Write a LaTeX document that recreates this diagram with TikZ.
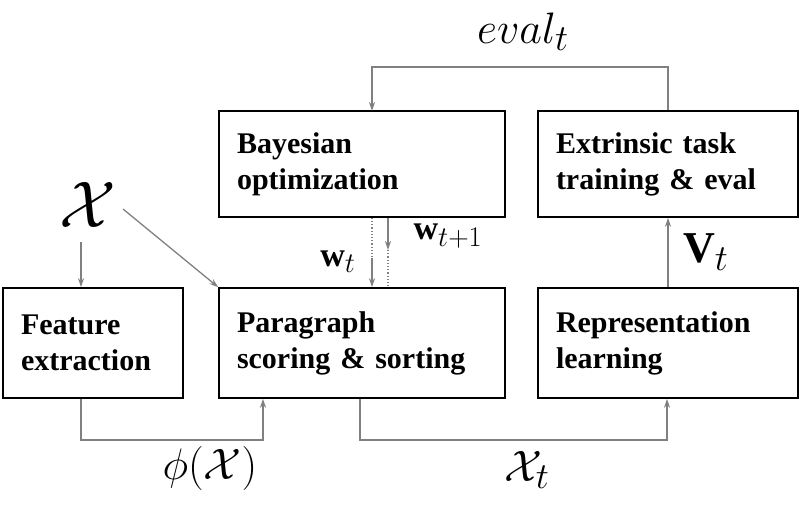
\documentclass[tikz,border=0pt]{standalone}
\usepackage{amsmath}
\usepackage{fontspec}
\setmainfont{Liberation Serif}
\usetikzlibrary{positioning,arrows.meta}

\begin{document}
\begin{tikzpicture}[x=1pt, y=-1pt, thick,
        box/.style = {draw, line width=1.6pt, minimum height=106pt, text width=#1, inner xsep=18pt, align=left, font=\fontsize{30}{36}\selectfont\bfseries},
        link/.style = {draw=gray, line width=1.3pt, -{Stealth[length=9pt, width=6pt]}},
        lbl/.style = {font=\Huge, scale=#1, transform shape},
        lbl/.default = 1.77]
        \useasboundingbox (0,0) rectangle (801,505);
        \node[box=250pt] (bo) at (362,164) {Bayesian\\optimization};
        \node[box=224pt] (ext) at (668,164) {Extrinsic task\\training \& eval};
        \node[box=144pt, minimum height=110pt] (fe) at (93,343) {Feature\\extraction};
        \node[box=250pt, minimum height=110pt] (ps) at (362,343) {Paragraph\\scoring \& sorting};
        \node[box=224pt, minimum height=110pt] (rl) at (668,343) {Representation\\learning};
        \node[lbl=2.65] (x) at (88,205) {$\mathcal{X}$};
        \node[lbl] (ev) at (523,32) {$eval_t$};
        \node[lbl] (phi) at (210,468) {$\phi(\mathcal{X})$};
        \node[lbl] (xt) at (527,470) {$\mathcal{X}_t$};
        \node[lbl] (vt) at (706,252) {$\mathbf{V}_t$};
        \node[lbl=1.37] (wt) at (338,262) {$\mathbf{w}_t$};
        \node[lbl=1.37] (wt1) at (448,236) {$\mathbf{w}_{t+1}$};
        \coordinate (top) at (0,67);
        \coordinate (bot) at (0,440);
        % feedback loop
        \draw[link] (ext.north) -- (ext.north |- top) -- (372,67) -- (372,111);
        \draw[link] (rl.north) -- (ext.south);
        \draw[link] (81,242) -- (fe.north -| 81,0);
        \draw[link] (123,209) -- (ps.north west);
        \draw[link] (fe.south -| 81,0) -- (81,440) -- (263,440) -- (ps.south -| 263,0);
        \draw[link] (ps.south -| 360,0) -- (360,440) -- (667,440) -- (rl.south -| 667,0);
        % weights
        \draw[gray, dotted, line width=1.2pt] (bo.south -| 372,0) -- (372,258);
        \draw[link] (372,258) -- (ps.north -| 372,0);
        \draw[link] (bo.south -| 388,0) -- (388,250);
        \draw[gray, dotted, line width=1.2pt] (388,250) -- (ps.north -| 388,0);
    \end{tikzpicture}
\end{document}
